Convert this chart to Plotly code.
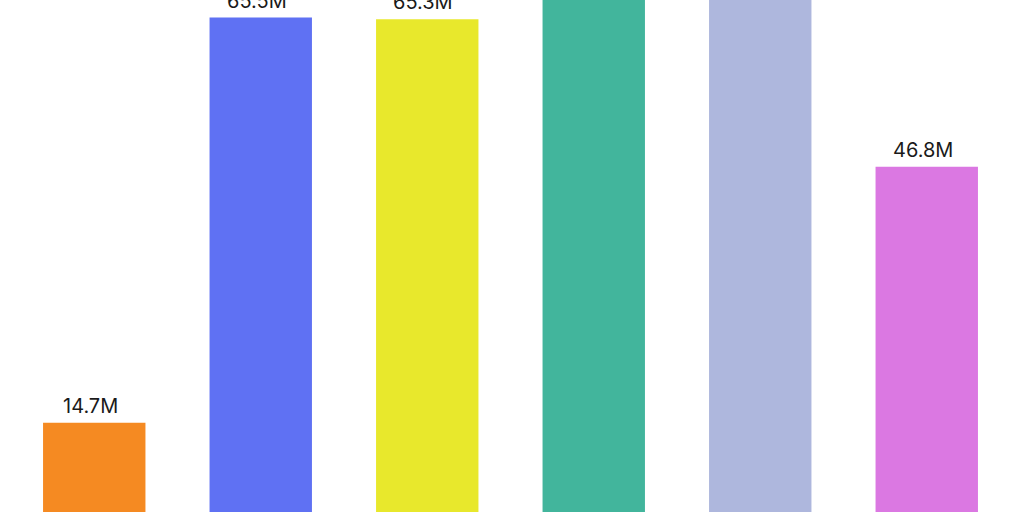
import plotly.graph_objects as go

# Data (bars 4 and 5 run off the top of the view, so their values are estimates)
categories = ['A', 'B', 'C', 'D', 'E', 'F']
values = [14.7, 65.5, 65.3, 78.0, 72.0, 46.8]
labels = ['14.7M', '65.5M', '65.3M', '78.0M', '72.0M', '46.8M']
colors = ['#F58A22', '#5F71F3', '#E8E82C', '#42B59C', '#AEB7DD', '#DB78E2']

fig = go.Figure()

fig.add_trace(go.Bar(
    x=categories,
    y=values,
    marker=dict(color=colors, line=dict(width=0)),
    hoverinfo='skip',
))

# Value labels sit a bit higher above the bars than plotly's own outside text
for cat, val, lab in zip(categories, values, labels):
    fig.add_annotation(
        x=cat, y=val, text=lab,
        showarrow=False, yanchor='bottom', yshift=3, xshift=-4,
        font=dict(family='Inter', size=20, color='#1a1a1a'),
    )

fig.update_layout(
    width=1024,
    height=512,
    margin=dict(l=11, r=14, t=0, b=0),
    paper_bgcolor='white',
    plot_bgcolor='white',
    bargap=0.385,
    showlegend=False,
    xaxis=dict(visible=False),
    yaxis=dict(visible=False, range=[3.5, 67.7]),
)

# drop the default body margin so the figure starts at the page corner
fig.write_html("out.html", config={'displayModeBar': False},
               post_script="document.body.style.margin='0px';")
